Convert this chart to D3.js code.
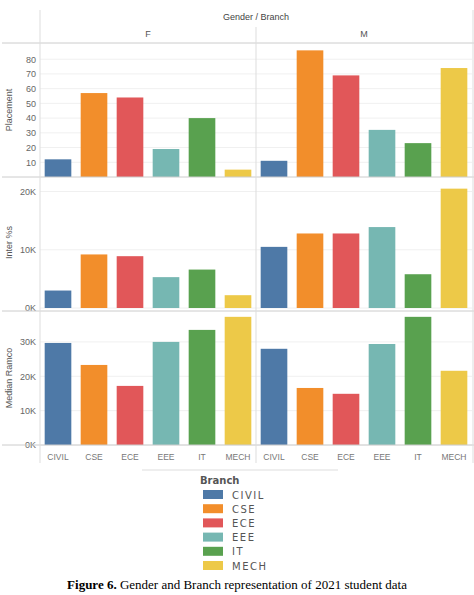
<!DOCTYPE html><html><head><meta charset="utf-8"><script src="https://cdn.jsdelivr.net/npm/d3@7"></script>
<style>body{margin:0;background:#fff}</style></head><body><svg id="c" width="474" height="595"></svg>
<script>
const branches=["CIVIL","CSE","ECE","EEE","IT","MECH"];
const genders=["F","M"];
const colors=["#4e79a7","#f28e2b","#e15759","#76b7b2","#59a14f","#edc948"];
const placementF=[12,57,54,19,40,5], placementM=[11,86,69,32,23,74];
const internF=[3000,9200,8900,5300,6600,2200], internM=[10500,12800,12800,13900,5800,20500];
const salaryF=[29700,23300,17200,30000,33500,37300], salaryM=[28000,16600,14900,29400,37300,21600];
const rows=[
 {label:"Placement",data:[placementF,placementM],top:43,bot:177,max:91,ticks:[10,20,30,40,50,60,70,80],fmt:d=>d},
 {label:"Inter %s",data:[internF,internM],top:177,bot:308,max:22500,ticks:[0,10000,20000],fmt:d=>d/1000+"K"},
 {label:"Median Ramco",data:[salaryF,salaryM],top:311,bot:445,max:39000,ticks:[0,10000,20000,30000],fmt:d=>d/1000+"K"}];
const svg=d3.select("#c");
const L=40,R=472,mid=256;
const fx=d3.scaleBand().domain(genders).range([L,R]);
const bx=d3.scaleBand().domain(branches).range([0,fx.bandwidth()]).paddingInner(0.26).paddingOuter(0.13);
const g=svg.append("g").style("font-family","'Liberation Sans Narrow',Arial,sans-serif");
g.append("text").attr("x",256).attr("y",20).attr("text-anchor","middle").attr("font-size",9).attr("fill","#444").text("Gender / Branch");
genders.forEach(s=>g.append("text").attr("x",fx(s)+fx.bandwidth()/2).attr("y",37).attr("text-anchor","middle").attr("font-size",9).attr("fill","#555").text(s));
g.append("line").attr("x1",2).attr("x2",474).attr("y1",43).attr("y2",43).attr("stroke","#ccc");
rows.forEach((r,i)=>{
 const y=d3.scaleLinear().domain([0,r.max]).range([r.bot,r.top]);
 r.ticks.forEach(t=>{g.append("line").attr("x1",L).attr("x2",R).attr("y1",y(t)).attr("y2",y(t)).attr("stroke","#f0f0f0");});
 const ax=g.append("g").attr("transform",`translate(${L},0)`).call(d3.axisLeft(y).tickValues(r.ticks).tickFormat(r.fmt).tickSize(0).tickPadding(4));
 ax.select(".domain").remove();ax.selectAll("text").attr("font-size",9).attr("fill","#666");
 g.append("text").attr("transform",`translate(12,${(r.top+r.bot)/2}) rotate(-90)`).attr("text-anchor","middle").attr("font-size",9).attr("fill","#555").text(r.label);
 genders.forEach((s,gi)=>{
  g.selectAll(null).data(r.data[gi]).join("rect").attr("x",(d,k)=>fx(s)+bx(branches[k])).attr("width",bx.bandwidth())
   .attr("y",d=>y(d)).attr("height",d=>r.bot-y(d)).attr("fill",(d,k)=>colors[k]);
 });
 const lineY=i==2?445:(i==0?177:311);
 g.append("line").attr("x1",2).attr("x2",474).attr("y1",lineY).attr("y2",lineY).attr("stroke","#ccc");
});
g.append("line").attr("x1",L).attr("x2",L).attr("y1",10).attr("y2",463).attr("stroke","#ddd");
g.append("line").attr("x1",mid).attr("x2",mid).attr("y1",27).attr("y2",463).attr("stroke","#ddd");
g.append("line").attr("x1",473).attr("x2",473).attr("y1",10).attr("y2",463).attr("stroke","#ddd");
genders.forEach(s=>branches.forEach(b=>g.append("text").attr("x",fx(s)+bx(b)+bx.bandwidth()/2).attr("y",460).attr("text-anchor","middle").attr("font-size",8.5).attr("fill","#777").text(b)));
g.append("line").attr("x1",142).attr("x2",338).attr("y1",470).attr("y2",470).attr("stroke","#ddd");
const lg=svg.append("g").style("font-family","'DejaVu Sans',sans-serif");
lg.append("text").attr("x",200).attr("y",484).attr("font-size",10).attr("font-weight","bold").attr("fill","#555").text("Branch");
branches.forEach((b,k)=>{const yy=490+k*14.2;
 lg.append("rect").attr("x",203).attr("y",yy).attr("width",20).attr("height",9).attr("fill",colors[k]);
 lg.append("text").attr("x",232).attr("y",yy+8.5).attr("font-size",10).attr("letter-spacing",1.5).attr("fill","#555").text(b);});
svg.append("text").attr("x",237).attr("y",589).attr("text-anchor","middle").attr("font-family","'Liberation Serif',serif").attr("font-size",13)
 .html('<tspan font-weight="bold">Figure 6.</tspan> Gender and Branch representation of 2021 student data');
</script></body></html>
